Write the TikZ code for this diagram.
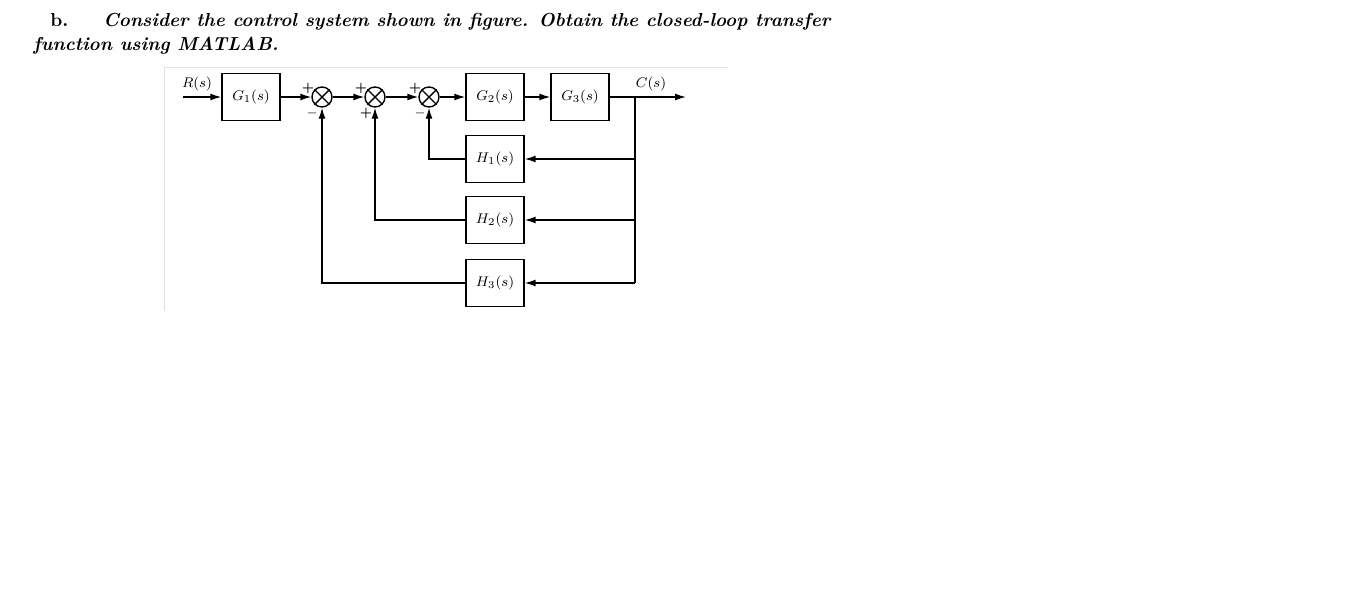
\documentclass[tikz,border=0pt]{standalone}
\usetikzlibrary{arrows.meta,shapes.misc}
\tikzset{
  blk/.style={draw,thick,minimum width=1.16cm,minimum height=0.94cm,font=\fontsize{8}{9}\selectfont},
  sumc/.style={draw,thick,circle,minimum size=0.4cm,inner sep=0pt},
  sgn/.style={font=\fontsize{7}{8}\selectfont\bfseries,inner sep=1pt},
  sig/.style={thick,-{Latex[length=2.2mm,width=1.4mm]}},
  lbl/.style={font=\fontsize{8}{9}\selectfont},
  ttl/.style={anchor=base west,font=\fontsize{10.7}{13}\selectfont\bfseries\itshape,inner sep=0pt}
}
\begin{document}
\begin{tikzpicture}[x=0.02cm,y=-0.02cm]
\useasboundingbox (0,0) rectangle (1345,596);
\node[ttl,font=\fontsize{10.7}{13}\selectfont\bfseries] (b) at (50,26) {b.};
\node[ttl] (t1) at (103,26) {Consider the control system shown in figure. Obtain the closed-loop transfer};
\node[ttl] (t2) at (33,50) {function using MATLAB.};
\draw[black!12] (164,311) -- (164,67) -- (728,67);

\coordinate (in) at (183,97);
\node[blk] (g1) at (251,97) {$G_1(s)$};
\node[sumc] (s1) at (322,97) {};
\node[sumc] (s2) at (375,97) {};
\node[sumc] (s3) at (429,97) {};
\foreach \s in {s1,s2,s3}
  \draw[thick] (\s.north west) -- (\s.south east) (\s.north east) -- (\s.south west);
\node[blk] (g2) at (495,97) {$G_2(s)$};
\node[blk] (g3) at (580,97) {$G_3(s)$};
\coordinate (br) at (635,97);
\coordinate (out) at (686,97);
\node[blk] (h1) at (495,159) {$H_1(s)$};
\node[blk] (h2) at (495,220) {$H_2(s)$};
\node[blk] (h3) at (495,283) {$H_3(s)$};
\coordinate (b1) at (635,159);
\coordinate (b2) at (635,220);
\coordinate (b3) at (635,283);

\draw[sig] (in) -- (g1);
\draw[sig] (g1) -- (s1);
\draw[sig] (s1) -- (s2);
\draw[sig] (s2) -- (s3);
\draw[sig] (s3) -- (g2);
\draw[sig] (g2) -- (g3);
\draw[sig] (g3) -- (out);
\draw[thick] (br) -- (b3);
\draw[sig] (b1) -- (h1);
\draw[sig] (b2) -- (h2);
\draw[sig] (b3) -- (h3);
\draw[sig] (h1) -| (s3);
\draw[sig] (h2) -| (s2);
\draw[sig] (h3) -| (s1);

\node[lbl,above] at (197,97) {$R(s)$};
\node[lbl,above] at (651,97) {$C(s)$};
\node[sgn] at (308,88) {+};
\node[sgn] at (312,113) {$-$};
\node[sgn] at (361,88) {+};
\node[sgn] at (366,113) {+};
\node[sgn] at (415,88) {+};
\node[sgn] at (420,113) {$-$};
\end{tikzpicture}
\end{document}
